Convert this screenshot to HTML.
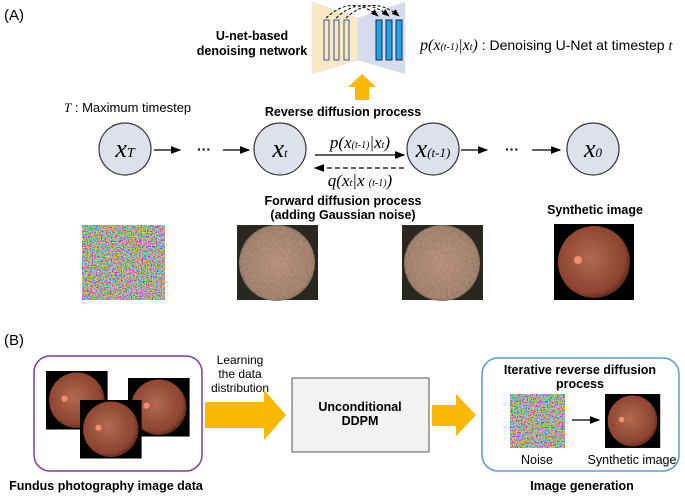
<!DOCTYPE html>
<html><head><meta charset="utf-8"><style>
body{margin:0;background:#fff}
svg text{font-family:"Liberation Sans",sans-serif}
.b{font-weight:bold;font-size:12.5px}
svg .m, svg .m text, svg .m tspan{font-family:"Liberation Serif",serif;font-style:italic}
</style></head><body>
<svg width="685" height="495" viewBox="0 0 685 495" xmlns="http://www.w3.org/2000/svg">
<defs>
<filter id="nz" x="0" y="0" width="100%" height="100%">
<feTurbulence type="fractalNoise" baseFrequency="0.8" numOctaves="2" seed="3"/>
<feColorMatrix type="matrix" values="2.4 -0.7 -0.7 0 -0.05  -0.7 2.4 -0.7 0 -0.05  -0.7 -0.7 2.4 0 -0.1  0 0 0 0 1"/>
</filter>
<filter id="bl"><feTurbulence type="fractalNoise" baseFrequency="0.35" numOctaves="2" seed="5" result="t"/>
<feColorMatrix in="t" type="matrix" values="0 0 0 0 0.7  0 0 0 0 0.55  0 0 0 0 0.45  0 0 0 0.3 0" result="c"/>
<feComposite in="c" in2="SourceGraphic" operator="atop"/></filter>
<radialGradient id="fg" cx="0.45" cy="0.45" r="0.6"><stop offset="0" stop-color="#b36a50"/><stop offset="0.8" stop-color="#8c4330"/><stop offset="1" stop-color="#4a1f14"/></radialGradient>
<radialGradient id="bg2" cx="0.5" cy="0.5" r="0.55"><stop offset="0" stop-color="#b08570"/><stop offset="0.85" stop-color="#94705c"/><stop offset="1" stop-color="#3a3328"/></radialGradient>
<marker id="ar" markerWidth="8" markerHeight="8" refX="7" refY="4" orient="auto"><path d="M0,1 L8,4 L0,7z" fill="#000"/></marker>
<g id="fundus"><rect x="0" y="0" width="80" height="76" fill="#000"/><circle cx="40" cy="38" r="36" fill="url(#fg)"/><circle cx="24" cy="36" r="4" fill="#f09070"/></g>
</defs>
<text x="4" y="20" font-size="15">(A)</text>
<polygon points="312,2 358,18 358,60 312,74" fill="#fbe9c6" stroke="#ddd" stroke-width="0.5"/>
<polygon points="358,18 405,2 405,74 358,60" fill="#d6dcec" stroke="#ddd" stroke-width="0.5"/>
<rect x="324" y="20" width="5" height="40" fill="#fde8b0" stroke="#3355aa"/>
<rect x="334" y="20" width="5" height="40" fill="#fde8b0" stroke="#3355aa"/>
<rect x="344" y="20" width="5" height="40" fill="#fde8b0" stroke="#3355aa"/>
<rect x="376" y="20" width="6" height="40" fill="#1aa7e8" stroke="#225"/>
<rect x="386" y="20" width="6" height="40" fill="#1aa7e8" stroke="#225"/>
<rect x="396" y="20" width="6" height="40" fill="#1aa7e8" stroke="#225"/>
<g fill="none" stroke="#000" stroke-dasharray="3,2" stroke-width="1">
<path d="M326,18 Q352,-6 378,16" marker-end="url(#ar)"/>
<path d="M336,18 Q362,-6 389,16" marker-end="url(#ar)"/>
<path d="M346,18 Q372,-6 399,16" marker-end="url(#ar)"/>
</g>
<text class="b" x="252" y="40" text-anchor="middle">U-net-based</text>
<text class="b" x="252" y="55" text-anchor="middle">denoising network</text>
<text x="420" y="50" font-size="14"><tspan class="m" font-size="16">p(x</tspan><tspan class="m" font-size="10">(t-1)</tspan><tspan class="m" font-size="16">|x</tspan><tspan class="m" font-size="10">t</tspan><tspan class="m" font-size="16">)</tspan> : Denoising U-Net at timestep <tspan class="m">t</tspan></text>
<polygon points="348,87 362,74 376,87 369,87 369,100 355,100 355,87" fill="#fbb800"/>
<text x="64" y="112" font-size="13"><tspan class="m">T</tspan> : Maximum timestep</text>
<text class="b" x="343" y="116" text-anchor="middle">Reverse diffusion process</text>
<g fill="#dde1eb" stroke="#333" stroke-width="1.2">
<circle cx="125" cy="149" r="26"/><circle cx="280" cy="149" r="26"/><circle cx="433" cy="149" r="26"/><circle cx="593" cy="149" r="26"/>
</g>
<g class="m" font-size="26" text-anchor="middle">
<text x="125" y="157">x<tspan font-size="14">T</tspan></text>
<text x="280" y="157">x<tspan font-size="12">t</tspan></text>
<text x="433" y="157">x<tspan font-size="13">(t-1)</tspan></text>
<text x="593" y="157">x<tspan font-size="13">0</tspan></text>
</g>
<g stroke="#000" stroke-width="1.3" marker-end="url(#ar)">
<line x1="154" y1="150" x2="180" y2="150"/><line x1="223" y1="150" x2="249" y2="150"/>
<line x1="461" y1="150" x2="487" y2="150"/><line x1="532" y1="150" x2="560" y2="150"/>
<line x1="315" y1="155" x2="404" y2="155"/>
<line x1="404" y1="168" x2="315" y2="168" stroke-dasharray="5,3"/>
</g>
<text x="204" y="154" font-size="14" font-weight="bold" text-anchor="middle">···</text>
<text x="512" y="154" font-size="14" font-weight="bold" text-anchor="middle">···</text>
<text class="m" x="360" y="148" font-size="17" text-anchor="middle">p(x<tspan font-size="10">(t-1)</tspan>|x<tspan font-size="10">t</tspan>)</text>
<text class="m" x="360" y="186" font-size="17" text-anchor="middle">q(x<tspan font-size="10">t</tspan>|x <tspan font-size="10">(t-1)</tspan>)</text>
<text class="b" x="343" y="205" text-anchor="middle">Forward diffusion process</text>
<text class="b" x="343" y="219" text-anchor="middle">(adding Gaussian noise)</text>
<text class="b" x="595" y="214" text-anchor="middle">Synthetic image</text>
<rect x="82" y="225" width="83" height="75" filter="url(#nz)"/>
<rect x="237" y="225" width="81" height="75" fill="#2a2620"/>
<circle cx="277" cy="263" r="38" fill="url(#bg2)" filter="url(#bl)"/>
<rect x="402" y="225" width="81" height="75" fill="#2a2620"/>
<circle cx="442" cy="263" r="38" fill="url(#bg2)" filter="url(#bl)"/>
<use href="#fundus" transform="translate(554,224)"/>
<text x="4" y="345" font-size="15">(B)</text>
<rect x="34" y="356" width="168" height="115" rx="16" fill="none" stroke="#7b3fa6" stroke-width="1.5"/>
<g transform="translate(46,371) scale(0.77)"><use href="#fundus"/></g>
<g transform="translate(128,378) scale(0.77)"><use href="#fundus"/></g>
<g transform="translate(80,400) scale(0.77)"><use href="#fundus"/></g>
<text class="b" x="106" y="490" text-anchor="middle">Fundus photography image data</text>
<g font-size="12" text-anchor="middle"><text x="240" y="364">Learning</text><text x="240" y="378">the data</text><text x="240" y="392">distribution</text></g>
<polygon points="205,402 264,402 264,390 286,415 264,440 264,428 205,428" fill="#fbb800"/>
<rect x="292" y="378" width="137" height="74" fill="#f2f2f2" stroke="#555"/>
<text class="b" x="360" y="411" text-anchor="middle">Unconditional</text>
<text class="b" x="360" y="425" text-anchor="middle">DDPM</text>
<polygon points="432,405 456,405 456,394 476,415 456,436 456,426 432,426" fill="#fbb800"/>
<rect x="482" y="358" width="197" height="113" rx="16" fill="none" stroke="#5b9bd5" stroke-width="1.5"/>
<text class="b" x="580" y="374" text-anchor="middle">Iterative reverse diffusion</text>
<text class="b" x="580" y="388" text-anchor="middle">process</text>
<rect x="510" y="394" width="55" height="54" filter="url(#nz)"/>
<line x1="572" y1="420" x2="599" y2="420" stroke="#000" stroke-width="1.3" marker-end="url(#ar)"/>
<g transform="translate(605,394) scale(0.69,0.71)"><use href="#fundus"/></g>
<text x="537" y="464" font-size="12.5" text-anchor="middle">Noise</text>
<text x="632" y="464" font-size="12.5" text-anchor="middle">Synthetic image</text>
<text class="b" x="582" y="490" text-anchor="middle">Image generation</text>
</svg>
</body></html>
